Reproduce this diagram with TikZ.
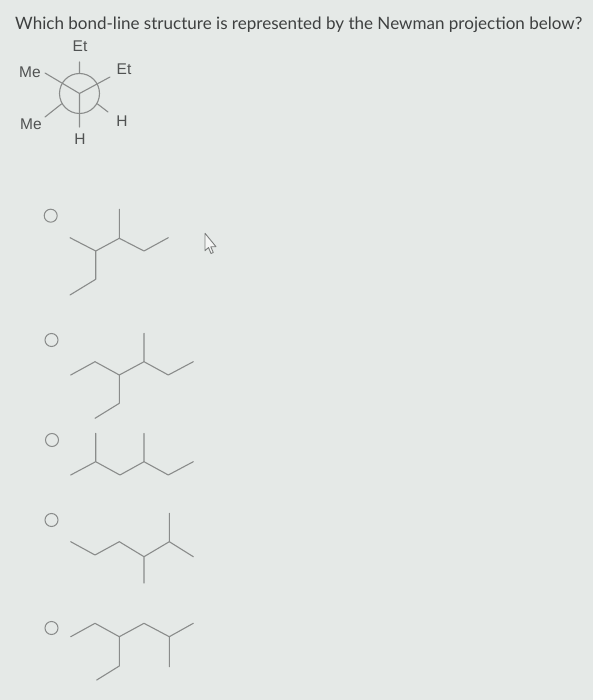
\documentclass[tikz,border=0pt]{standalone}
\usepackage{fontspec}
\setmainfont{Liberation Sans}
\newfontfamily\latofont{Lato}
\definecolor{bgc}{HTML}{E5E9E7}
\definecolor{bondc}{HTML}{8A8C8B}
\definecolor{labc}{HTML}{505252}
\definecolor{titlec}{HTML}{3E4040}
\begin{document}
\begin{tikzpicture}[x=1pt,y=-1pt,
  bond/.style={draw=bondc,line width=1.1pt,line cap=round,line join=round},
  lab/.style={text=labc,font=\fontsize{15.5}{17}\selectfont,inner sep=0pt},
  radio/.style={draw=bondc,line width=1pt,circle,minimum size=13pt,inner sep=0pt}]
\fill[bgc] (0,0) rectangle (593,700);
\useasboundingbox (0,0) rectangle (593,700);
% title
\node[anchor=west,text=titlec,inner sep=0pt] (title) at (15,25)
  {\resizebox{567pt}{!}{\latofont\fontsize{16}{18}\selectfont Which bond-line structure is represented by the Newman projection below?}};
% Newman projection
\coordinate (C) at (79.5,93.5);
\node[draw=bondc,line width=1.1pt,circle,minimum size=40pt,inner sep=0pt] (ring) at (C) {};
\node[lab] (etT) at (80,46) {Et};
\node[lab] (meU) at (30,72) {Me};
\node[lab] (etR) at (124,69) {Et};
\node[lab] (meL) at (31,124) {Me};
\node[lab] (hR) at (122,121) {H};
\node[lab] (hB) at (80,139) {H};
\coordinate (fUL) at (45,73);
\coordinate (fUR) at (110,77);
\coordinate (fD) at (79.5,127);
\coordinate (bU) at (79.5,62);
\coordinate (bLL) at (45,117);
\coordinate (bLR) at (108,112);
\path[bond] (C) -- (fUL) (C) -- (fUR) (C) -- (fD);
\path[bond] (ring.north) -- (bU) (ring.210) -- (bLL) (ring.-30) -- (bLR);
% radio buttons
\node[radio] (r1) at (50.7,215.7) {};
\node[radio] (r2) at (51.5,340) {};
\node[radio] (r3) at (52,440) {};
\node[radio] (r4) at (51.5,520) {};
\node[radio] (r5) at (51.5,628) {};
% structure 1
\coordinate (a1) at (70,237.7);
\coordinate (a2) at (95.7,251);
\coordinate (a3) at (119.3,238.3);
\coordinate (a4) at (119.3,209.3);
\coordinate (a5) at (144,251);
\coordinate (a6) at (168.3,237.7);
\coordinate (a7) at (95.7,279.3);
\coordinate (a8) at (70,295);
\path[bond] (a1) -- (a2) -- (a3) -- (a5) -- (a6) (a3) -- (a4) (a2) -- (a7) -- (a8);
% structure 2
\coordinate (b1) at (70.7,375);
\coordinate (b2) at (95,361.7);
\coordinate (b3) at (119.3,375);
\coordinate (b4) at (144,361.7);
\coordinate (b5) at (144,333.3);
\coordinate (b6) at (168.3,375);
\coordinate (b7) at (193.3,361.7);
\coordinate (b8) at (119.3,403.3);
\coordinate (b9) at (95,418.3);
\path[bond] (b1) -- (b2) -- (b3) -- (b4) -- (b6) -- (b7) (b4) -- (b5) (b3) -- (b8) -- (b9);
% structure 3
\coordinate (c1) at (70.7,475);
\coordinate (c2) at (95.7,461.7);
\coordinate (c3) at (95.7,433.3);
\coordinate (c4) at (120,475);
\coordinate (c5) at (144,461.7);
\coordinate (c6) at (144,433.3);
\coordinate (c7) at (168.3,475);
\coordinate (c8) at (193.3,461.7);
\path[bond] (c1) -- (c2) -- (c4) -- (c5) -- (c7) -- (c8) (c2) -- (c3) (c5) -- (c6);
% structure 4
\coordinate (d1) at (70.7,541.7);
\coordinate (d2) at (95,555);
\coordinate (d3) at (119.3,541.7);
\coordinate (d4) at (144,556.7);
\coordinate (d5) at (144,583);
\coordinate (d6) at (169.3,541.7);
\coordinate (d7) at (169.3,513.3);
\coordinate (d8) at (193.3,556.7);
\path[bond] (d1) -- (d2) -- (d3) -- (d4) -- (d6) -- (d8) (d4) -- (d5) (d6) -- (d7);
% structure 5
\coordinate (e1) at (70.7,636.7);
\coordinate (e2) at (95,623.3);
\coordinate (e3) at (119.3,636.7);
\coordinate (e4) at (144,623.3);
\coordinate (e5) at (169.3,636.7);
\coordinate (e6) at (193.3,623.3);
\coordinate (e7) at (169.3,666.7);
\coordinate (e8) at (119.3,666);
\coordinate (e9) at (96.7,680);
\path[bond] (e1) -- (e2) -- (e3) -- (e4) -- (e5) -- (e6) (e5) -- (e7) (e3) -- (e8) -- (e9);
% mouse cursor
\draw[draw=bondc!90!black,fill=white!60!bgc,line width=0.9pt,line join=round]
  (205,233.3) -- (205,250.7) -- (208.5,247.5) -- (211,253.5) -- (213.3,252.5) -- (210.8,246.8) -- (216,246.7) -- cycle;
\end{tikzpicture}
\end{document}
